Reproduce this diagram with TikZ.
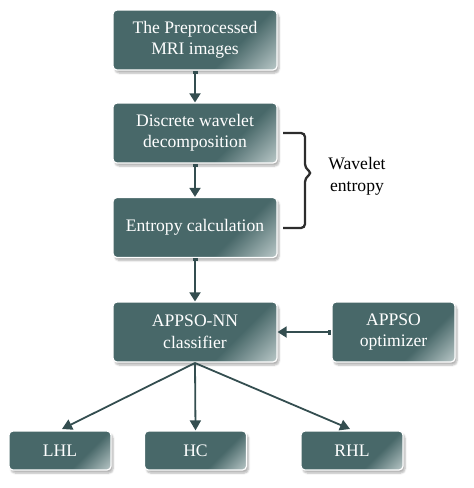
\documentclass[tikz,border=0pt]{standalone}
\usepackage{fontspec}
\setmainfont{Liberation Serif}
\usetikzlibrary{arrows.meta,shadows.blur}
\definecolor{boxc}{RGB}{72,104,105}
\definecolor{boxl}{RGB}{200,212,212}
\definecolor{arrc}{RGB}{52,78,80}
\definecolor{brc}{RGB}{45,45,45}
\pgfdeclarehorizontalshading{boxshade}{100bp}{color(0bp)=(boxc); color(65bp)=(boxc); color(88bp)=(boxl); color(100bp)=(boxl)}
\tikzset{
  procbox/.style={rectangle, rounded corners=4pt, draw=white, line width=1.2pt,
    shading=boxshade, shading angle=-45, text=white, align=center,
    font=\fontsize{17.6}{21.5}\selectfont, inner sep=0pt,
    blur shadow={shadow xshift=2pt, shadow yshift=-3pt, shadow blur steps=6, shadow opacity=30}},
  bigbox/.style={procbox, minimum width=164pt, minimum height=60pt},
  leafbox/.style={procbox, minimum width=102pt, minimum height=39pt},
  arr/.style={draw=arrc, line width=1.8pt, {Square[length=3pt,width=5pt]}-{Triangle[width=11pt,length=9pt]}},
  fan/.style={draw=arrc, line width=1.8pt, -{Triangle[width=11pt,length=10pt]}},
}
\begin{document}
\begin{tikzpicture}[x=1pt,y=-1pt]
\useasboundingbox (0,0) rectangle (474,488);
\node[bigbox] (b1) at (195,40) {The Preprocessed\\MRI images};
\node[bigbox] (b2) at (195,133) {Discrete wavelet\\decomposition};
\node[bigbox] (b3) at (195,227.5) {Entropy calculation};
\node[bigbox] (b4) at (195,332) {APPSO-NN\\classifier};
\node[procbox, minimum width=123pt, minimum height=60pt] (b5) at (393.5,332) {APPSO\\optimizer};
\node[leafbox] (lhl) at (60,450.5) {LHL};
\node[leafbox] (hc) at (195.5,450.5) {HC};
\node[leafbox] (rhl) at (352,450.5) {RHL};
\draw[arr] (b1.south) -- (b2.north);
\draw[arr] (b2.south) -- (b3.north);
\draw[arr] (b3.south) -- (b4.north);
\draw[arr] (b5.west) -- (b4.east);
\coordinate (fo) at (195,363);
\coordinate (lt) at (62,429);
\coordinate (rt) at (350,429);
\draw[fan] (fo) -- (lt);
\draw[fan] (fo) -- (hc.north);
\draw[fan] (fo) -- (rt);
\coordinate (brt) at (283,133);
\coordinate (brb) at (283,228);
\coordinate (brtip) at (312,173);
\draw[brc, line width=2.3pt, rounded corners=4pt] (brt) -- (305,133) -- (305,168) -- (brtip) -- (305,178) -- (305,228) -- (brb);
\node[font=\fontsize{17.6}{22}\selectfont, align=center] (we) at (357,176) {Wavelet\\entropy};
\end{tikzpicture}
\end{document}
